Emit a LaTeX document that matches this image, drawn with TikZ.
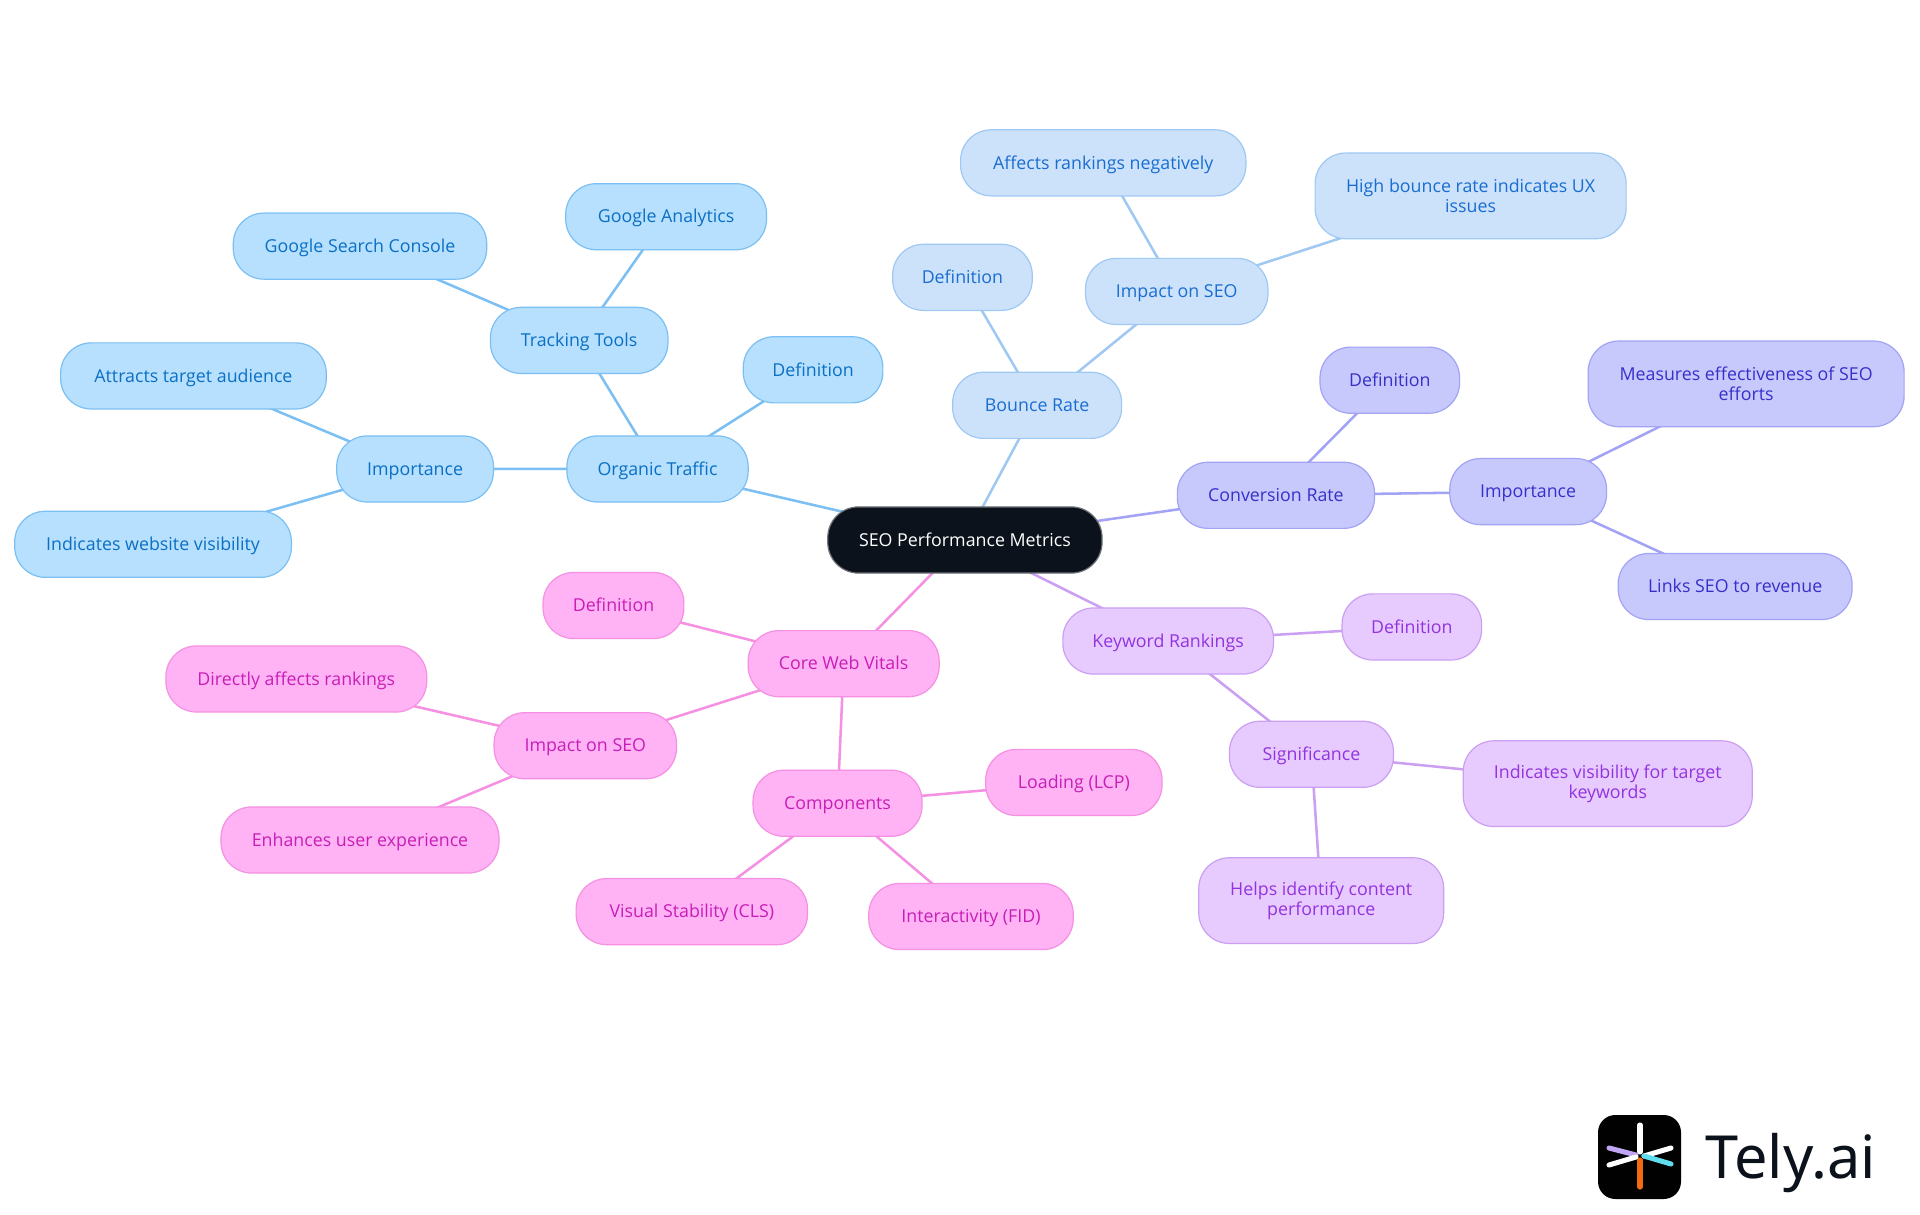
\documentclass[tikz,border=0pt]{standalone}
\usepackage{fontspec}
\setmainfont{Open Sans}
\usetikzlibrary{backgrounds}
\definecolor{rootfill}{HTML}{0B121B}
\definecolor{rootline}{HTML}{6E7378}
\definecolor{afill}{HTML}{B6E0FE}\definecolor{aline}{HTML}{7CBFF2}\definecolor{atext}{HTML}{0B6FC4}
\definecolor{bfill}{HTML}{CCE2FB}\definecolor{bline}{HTML}{9FC8F3}\definecolor{btext}{HTML}{1A6DD0}
\definecolor{cfill}{HTML}{C7C9FD}\definecolor{cline}{HTML}{A3A3F6}\definecolor{ctext}{HTML}{3730C8}
\definecolor{dfill}{HTML}{E7CBFE}\definecolor{dline}{HTML}{CB9FF2}\definecolor{dtext}{HTML}{9333E0}
\definecolor{efill}{HTML}{FFB3F5}\definecolor{eline}{HTML}{F590E2}\definecolor{etext}{HTML}{C81EB8}
\definecolor{logocyan}{HTML}{5FDDEE}\definecolor{logopurple}{HTML}{BFA5F2}\definecolor{logoorange}{HTML}{F26A0F}
\tikzset{
 x=0.91837pt,y=-0.91837pt,
 mm/.style 2 args={minimum width=#1*0.91837pt,minimum height=#2*0.91837pt,inner sep=0pt,align=center,rounded corners=23pt,line width=0.9pt,font=\fontsize{13.35}{15}\selectfont,text height=12pt,text depth=2.6pt},
 twoline/.style={text height={},text depth={}},
 nroot/.style={draw=rootline,fill=rootfill,text=white},
 na/.style={draw=aline,fill=afill,text=atext},
 nb/.style={draw=bline,fill=bfill,text=btext},
 nc/.style={draw=cline,fill=cfill,text=ctext},
 nd/.style={draw=dline,fill=dfill,text=dtext},
 ne/.style={draw=eline,fill=efill,text=etext},
 ea/.style={draw=aline,line width=1.9pt},
 eb/.style={draw=bline,line width=1.9pt},
 ec/.style={draw=cline,line width=1.9pt},
 ed/.style={draw=dline,line width=1.9pt},
 ee/.style={draw=eline,line width=1.9pt},
 logostroke/.style={line width=3.8pt,line cap=round},
}
\begin{document}
\begin{tikzpicture}
\useasboundingbox (0,0) rectangle (1568,992);
\node[mm={224}{54},nroot] (root) at (788,441) {SEO Performance Metrics};
% organic traffic
\node[mm={148}{54},na] (ot) at (537,383) {Organic Traffic};
\node[mm={114}{54},na] (otd) at (664,302) {Definition};
\node[mm={145}{54},na] (tt) at (473,278) {Tracking Tools};
\node[mm={164}{54},na] (ga) at (544,177) {Google Analytics};
\node[mm={207}{54},na] (gsc) at (294,201) {Google Search Console};
\node[mm={128}{54},na] (oti) at (339,383) {Importance};
\node[mm={217}{54},na] (ata) at (158,307) {Attracts target audience};
\node[mm={226}{54},na] (iwv) at (125,444.5) {Indicates website visibility};
% bounce rate
\node[mm={138}{54},nb] (br) at (847,331) {Bounce Rate};
\node[mm={114}{54},nb] (brd) at (786,226.5) {Definition};
\node[mm={149}{54},nb] (bri) at (961,238) {Impact on SEO};
\node[mm={233}{54},nb] (arn) at (901,133) {Affects rankings negatively};
\node[mm={254}{70},nb,twoline] (hbr) at (1201,160) {High bounce rate indicates UX\\issues};
% conversion rate
\node[mm={161}{54},nc] (cr) at (1042,404.5) {Conversion Rate};
\node[mm={114}{54},nc] (crd) at (1135,310.5) {Definition};
\node[mm={128}{54},nc] (cri) at (1248,401.5) {Importance};
\node[mm={258}{70},nc,twoline] (mes) at (1426,313.5) {Measures effectiveness of SEO\\efforts};
\node[mm={191}{54},nc] (lsr) at (1417,479) {Links SEO to revenue};
% keyword rankings
\node[mm={172}{54},nd] (kr) at (954,523.5) {Keyword Rankings};
\node[mm={114}{54},nd] (krd) at (1153,512) {Definition};
\node[mm={134}{54},nd] (sig) at (1071,616) {Significance};
\node[mm={236}{70},nd,twoline] (ivt) at (1313,640) {Indicates visibility for target\\keywords};
\node[mm={200}{70},nd,twoline] (hic) at (1079,735.5) {Helps identify content\\performance};
% core web vitals
\node[mm={156}{54},ne] (cwv) at (689,542) {Core Web Vitals};
\node[mm={115}{54},ne] (cwd) at (501,494.5) {Definition};
\node[mm={149}{54},ne] (cwi) at (478,609) {Impact on SEO};
\node[mm={213}{54},ne] (dar) at (242,554.5) {Directly affects rankings};
\node[mm={227}{54},ne] (eue) at (294,686) {Enhances user experience};
\node[mm={138}{54},ne] (cmp) at (684,656) {Components};
\node[mm={144}{54},ne] (lcp) at (877,639) {Loading (LCP)};
\node[mm={189}{54},ne] (cls) at (565,744.5) {Visual Stability (CLS)};
\node[mm={167}{54},ne] (fid) at (793,748.5) {Interactivity (FID)};
\begin{scope}[on background layer]
\fill[white] (0,0) rectangle (1568,992);
\draw[ea] (root.center)--(ot.center) (ot.center)--(otd.center) (ot.center)--(tt.center) (tt.center)--(ga.center) (tt.center)--(gsc.center) (ot.center)--(oti.center) (oti.center)--(ata.center) (oti.center)--(iwv.center);
\draw[eb] (root.center)--(br.center) (br.center)--(brd.center) (br.center)--(bri.center) (bri.center)--(arn.center) (bri.center)--(hbr.center);
\draw[ec] (root.center)--(cr.center) (cr.center)--(crd.center) (cr.center)--(cri.center) (cri.center)--(mes.center) (cri.center)--(lsr.center);
\draw[ed] (root.center)--(kr.center) (kr.center)--(krd.center) (kr.center)--(sig.center) (sig.center)--(ivt.center) (sig.center)--(hic.center);
\draw[ee] (root.center)--(cwv.center) (cwv.center)--(cwd.center) (cwv.center)--(cwi.center) (cwi.center)--(dar.center) (cwi.center)--(eue.center) (cwv.center)--(cmp.center) (cmp.center)--(lcp.center) (cmp.center)--(cls.center) (cmp.center)--(fid.center);
\end{scope}
% logo (full-size pixel coordinates)
\begin{scope}[x=0.75pt,y=-0.75pt]
\fill[black!95!rootfill,rounded corners=13pt] (1598,1115) rectangle (1681,1199);
\draw[logostroke,white] (1640,1125)--(1640,1152);
\draw[logostroke,logoorange] (1640,1160)--(1640,1187);
\draw[logostroke,logopurple] (1609,1148)--(1636,1155);
\draw[logostroke,white] (1609,1165)--(1636,1157);
\draw[logostroke,white] (1671,1148)--(1644,1156);
\draw[logostroke,logocyan] (1644,1156)--(1671,1164);
\node[anchor=base west,inner sep=0pt,text=rootfill,font=\fontspec{Noto Sans}\fontsize{44.6}{44.6}\selectfont] (logo) at (1705,1178) {Tely.ai};
\end{scope}
\end{tikzpicture}
\end{document}
